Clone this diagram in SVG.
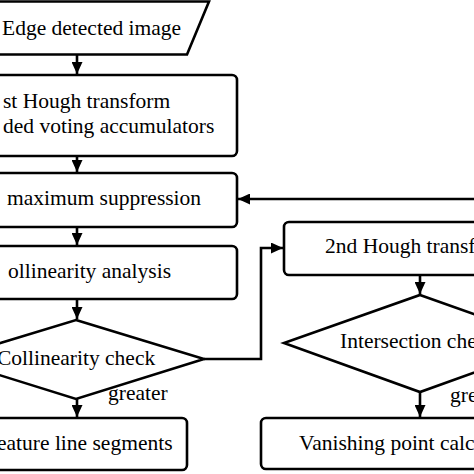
<svg xmlns="http://www.w3.org/2000/svg" width="474" height="474" viewBox="0 0 474 474">
<defs>
<style>
.s{fill:#fff;stroke:#000;stroke-width:2.6;stroke-linejoin:miter}
.c{fill:none;stroke:#000;stroke-width:2.6}
text{font-family:"Liberation Serif","Times New Roman",serif;font-size:21.5px;fill:#000}
</style>
<marker id="ah" markerUnits="userSpaceOnUse" markerWidth="12" markerHeight="11" refX="12" refY="5.5" orient="auto">
<path d="M0,0 L12,5.5 L0,11 Z" fill="#000"/>
</marker>
</defs>
<rect width="474" height="474" fill="#fff"/>
<g id="connectors">
<line class="c" x1="77" y1="55" x2="77" y2="74" marker-end="url(#ah)"/>
<line class="c" x1="77" y1="156" x2="77" y2="172" marker-end="url(#ah)"/>
<line class="c" x1="77" y1="227" x2="77" y2="245" marker-end="url(#ah)"/>
<line class="c" x1="77" y1="299" x2="77" y2="319" marker-end="url(#ah)"/>
<line class="c" x1="77" y1="399" x2="77" y2="417" marker-end="url(#ah)"/>
<polyline class="c" points="204,359 261,359 261,248 283,248" marker-end="url(#ah)"/>
<line class="c" x1="480" y1="199" x2="238" y2="199" marker-end="url(#ah)"/>
<line class="c" x1="420" y1="275" x2="420" y2="294" marker-end="url(#ah)"/>
<line class="c" x1="420" y1="392" x2="420" y2="417" marker-end="url(#ah)"/>
</g>
<g id="edge-image">
<polygon class="s" points="-18,1.5 209,1.5 187,54.5 -40,54.5"/>
<text x="2" y="35">Edge detected image</text>
</g>
<g id="hough1">
<rect class="s" x="-20" y="75" width="257" height="81" rx="5"/>
<text x="3" y="108">st Hough transform</text>
<text x="3" y="133">ded voting accumulators</text>
</g>
<g id="nms">
<rect class="s" x="-20" y="173" width="257" height="54" rx="5"/>
<text x="7" y="205">maximum suppression</text>
</g>
<g id="collinearity-analysis">
<rect class="s" x="-20" y="246" width="257" height="53" rx="5"/>
<text x="8" y="278">ollinearity analysis</text>
</g>
<g id="collinearity-check">
<polygon class="s" points="76,320 204,359 76,399 -52,359"/>
<text x="-3" y="365">Collinearity check</text>
<text x="108" y="400">greater</text>
</g>
<g id="feature-lines">
<rect class="s" x="-20" y="418" width="207" height="52" rx="5"/>
<text x="-3" y="450">eature line segments</text>
</g>
<g id="hough2">
<rect class="s" x="284" y="222" width="280" height="53" rx="5"/>
<text x="325" y="253">2nd Hough transf</text>
</g>
<g id="intersection-check">
<polygon class="s" points="420,295 556,343 420,392 284,343"/>
<text x="340" y="348">Intersection che</text>
<text x="450" y="402">gre</text>
</g>
<g id="vanishing-point">
<rect class="s" x="261" y="418" width="280" height="51" rx="5"/>
<text x="299" y="450">Vanishing point calc</text>
</g>
</svg>
